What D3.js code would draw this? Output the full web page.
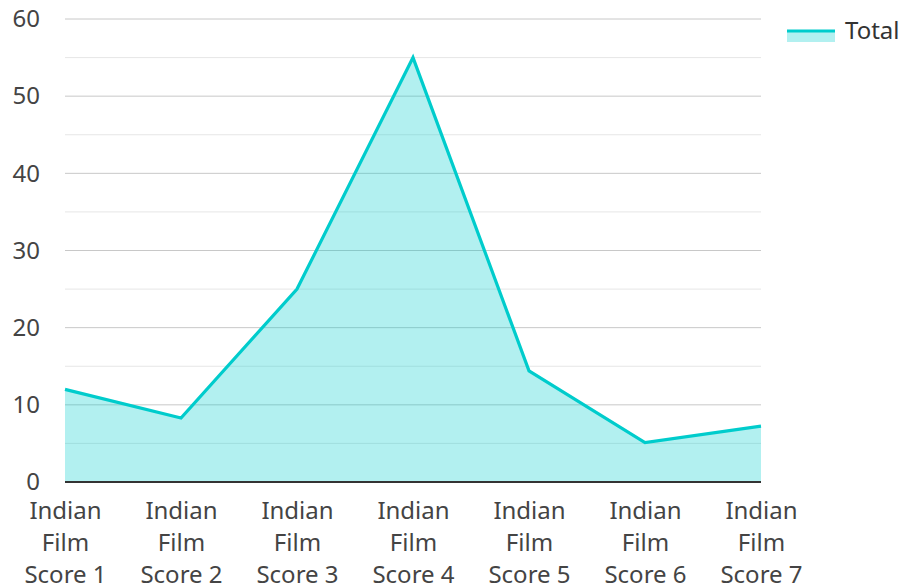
<!DOCTYPE html>
<html>
<head>
<meta charset="utf-8">
<script src="https://cdn.jsdelivr.net/npm/d3@7"></script>
<style>
  html, body { margin: 0; padding: 0; background: #fff; }
  svg { display: block; font-family: "Noto Sans", "Open Sans", sans-serif; }
</style>
</head>
<body>
<div id="chart"></div>
<script>
// Chart data
const categories = ['Indian Film Score 1', 'Indian Film Score 2', 'Indian Film Score 3',
  'Indian Film Score 4', 'Indian Film Score 5', 'Indian Film Score 6', 'Indian Film Score 7'];
const totals = [12, 8.3, 25, 55, 14.4, 5.1, 7.25];
const majorTicks = [0, 10, 20, 30, 40, 50, 60];
const minorTicks = [5, 15, 25, 35, 45, 55];
const seriesName = 'Total';

const width = 901;
const height = 587;
const margin = { top: 19, right: 140, bottom: 105, left: 65 };
const fontSize = 24;

const svg = d3.select('#chart').append('svg')
  .attr('width', width)
  .attr('height', height);

const x = d3.scalePoint()
  .domain(categories)
  .range([margin.left, width - margin.right]);

const y = d3.scaleLinear()
  .domain([0, 60])
  .range([height - margin.bottom, margin.top]);

// minor grid
svg.append('g')
  .selectAll('line')
  .data(minorTicks)
  .join('line')
  .attr('x1', margin.left)
  .attr('x2', width - margin.right)
  .attr('y1', (d) => y(d))
  .attr('y2', (d) => y(d))
  .attr('stroke', '#e6e6e6')
  .attr('stroke-width', 1);

// major grid
svg.append('g')
  .selectAll('line')
  .data(majorTicks.filter((d) => d > 0))
  .join('line')
  .attr('x1', margin.left)
  .attr('x2', width - margin.right)
  .attr('y1', (d) => y(d))
  .attr('y2', (d) => y(d))
  .attr('stroke', '#c8c8c8')
  .attr('stroke-width', 1);

// area + line
const area = d3.area()
  .x((d, i) => x(categories[i]))
  .y0(y(0))
  .y1((d) => y(d));

const line = d3.line()
  .x((d, i) => x(categories[i]))
  .y((d) => y(d));

svg.append('path')
  .datum(totals)
  .attr('d', area)
  .attr('fill', '#00cccc')
  .attr('fill-opacity', 0.3);

svg.append('path')
  .datum(totals)
  .attr('d', line)
  .attr('fill', 'none')
  .attr('stroke', '#00cccc')
  .attr('stroke-width', 3.2)
  .attr('stroke-linejoin', 'miter');

// baseline
svg.append('line')
  .attr('x1', margin.left)
  .attr('x2', width - margin.right)
  .attr('y1', y(0))
  .attr('y2', y(0))
  .attr('stroke', '#333')
  .attr('stroke-width', 2);

// y axis labels
const yAxis = svg.append('g')
  .attr('transform', `translate(${margin.left - 25},0)`)
  .call(d3.axisLeft(y).tickValues(majorTicks).tickSize(0).tickPadding(0));
yAxis.select('.domain').remove();
yAxis.selectAll('text')
  .attr('font-size', fontSize)
  .attr('fill', '#444')
  .attr('font-family', '"Noto Sans", "Open Sans", sans-serif');

// x axis labels (wrapped in three lines)
const xAxis = svg.append('g')
  .attr('transform', `translate(0,${y(0)})`)
  .call(d3.axisBottom(x).tickSize(0).tickFormat(''));
xAxis.select('.domain').remove();
xAxis.selectAll('.tick').each(function (d) {
  const words = d.split(' ');
  const lines = [words[0], words[1], words.slice(2).join(' ')];
  const t = d3.select(this).append('text')
    .attr('fill', '#444')
    .attr('font-size', fontSize)
    .attr('text-anchor', 'middle')
    .attr('font-family', '"Noto Sans", "Open Sans", sans-serif');
  lines.forEach((l, i) => {
    t.append('tspan')
      .attr('x', 0)
      .attr('y', 37 + i * 32)
      .text(l);
  });
});

// legend
const legend = svg.append('g').attr('transform', 'translate(787,30)');
legend.append('rect')
  .attr('x', 0)
  .attr('y', 0)
  .attr('width', 48)
  .attr('height', 12)
  .attr('fill', '#00cccc')
  .attr('fill-opacity', 0.3);
legend.append('line')
  .attr('x1', 0)
  .attr('x2', 48)
  .attr('y1', 1)
  .attr('y2', 1)
  .attr('stroke', '#00cccc')
  .attr('stroke-width', 3);
legend.append('text')
  .attr('x', 58)
  .attr('y', 9)
  .attr('font-size', fontSize)
  .attr('fill', '#333')
  .text(seriesName);
</script>
</body>
</html>
